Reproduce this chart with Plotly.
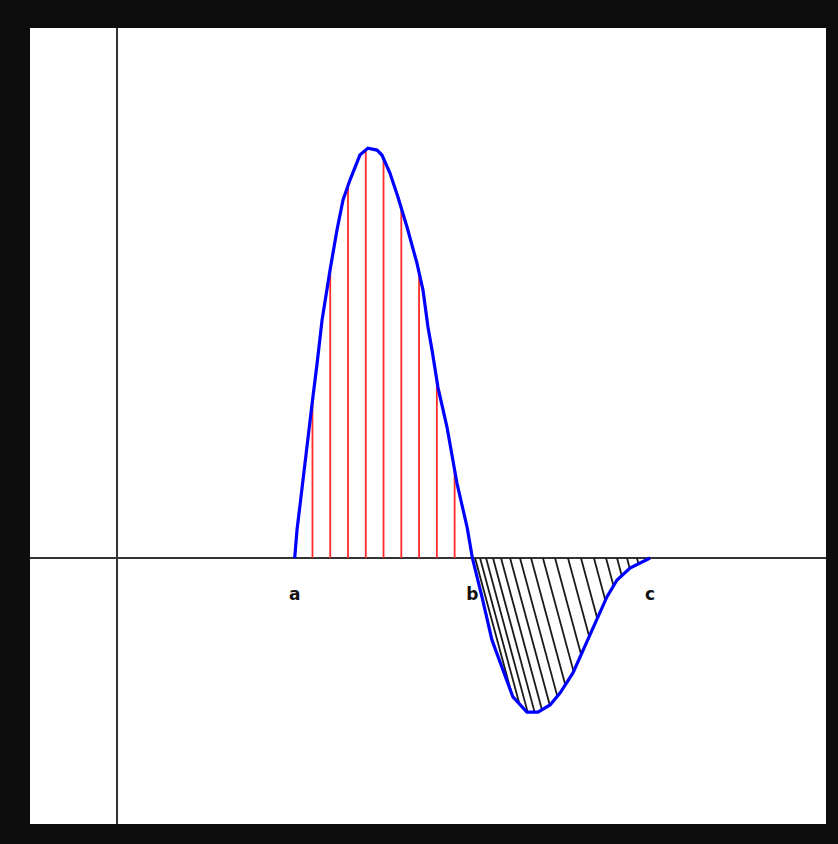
import numpy as np
import plotly.graph_objects as go

# Curve samples (data units: a=1, b=2, c=3)
curve_x = [1.000, 1.004, 1.013, 1.030, 1.052, 1.075, 1.097, 1.125, 1.154, 1.199,
           1.238, 1.272, 1.311, 1.367, 1.412, 1.463, 1.491, 1.536, 1.581, 1.632,
           1.688, 1.722, 1.750, 1.773, 1.806, 1.857, 1.913, 1.970, 2.000, 2.054,
           2.110, 2.172, 2.228, 2.307, 2.369, 2.437, 2.493, 2.566, 2.679, 2.757,
           2.814, 2.887, 3.000]
curve_y = [0.000, 0.060, 0.158, 0.298, 0.495, 0.664, 0.861, 1.086, 1.339, 1.621,
           1.846, 2.015, 2.127, 2.268, 2.307, 2.296, 2.268, 2.167, 2.032, 1.863,
           1.660, 1.508, 1.300, 1.170, 0.962, 0.737, 0.422, 0.174, 0.000, -0.219,
           -0.461, -0.630, -0.782, -0.867, -0.867, -0.827, -0.760, -0.647, -0.388, -0.219,
           -0.124, -0.056, 0.000]

# Vertical red hatch positions (between a and b)
red_x = [1.1, 1.2, 1.3, 1.4, 1.5, 1.6, 1.7, 1.8, 1.9]

# Diagonal black hatch: starting points on the x-axis (between b and c)
hatch_top_x = [2.015, 2.043, 2.077, 2.116, 2.161, 2.212, 2.268, 2.330, 2.397,
               2.465, 2.538, 2.611, 2.684, 2.752, 2.814, 2.870, 2.926]
hatch_dx_per_dy = 0.27

labels = ["a", "b", "c"]
label_x = [1, 2, 3]

cx = np.array(curve_x)
cy = np.array(curve_y)

def f(x):
    return np.interp(x, cx, cy)

# red vertical lines
rx, ry = [], []
for x in red_x:
    rx += [x, x, None]
    ry += [0, float(f(x)), None]

# black diagonal lines
hx, hy = [], []
for x0 in hatch_top_x:
    d = 0.0
    step = 0.002
    while True:
        nd = d + step
        xx = x0 + hatch_dx_per_dy * nd
        if xx > 3 or f(xx) > -nd:
            break
        d = nd
    hx += [x0, x0 + hatch_dx_per_dy * d, None]
    hy += [0, -d, None]

fig = go.Figure()
fig.add_trace(go.Scatter(x=rx, y=ry, mode="lines",
                         line=dict(color="#ff2a2a", width=1.8),
                         hoverinfo="skip", showlegend=False))
fig.add_trace(go.Scatter(x=hx, y=hy, mode="lines",
                         line=dict(color="#1a1a1a", width=1.8),
                         hoverinfo="skip", showlegend=False))
fig.add_trace(go.Scatter(x=curve_x, y=curve_y, mode="lines",
                         line=dict(color="#0000ff", width=3.2),
                         hoverinfo="skip", showlegend=False))
fig.add_trace(go.Scatter(x=label_x, y=[-0.213] * 3, mode="text",
                         text=["<b>%s</b>" % t for t in labels],
                         textfont=dict(family="DejaVu Sans", size=17, color="#111111"),
                         hoverinfo="skip", showlegend=False))

axis_common = dict(showgrid=False, showticklabels=False, ticks="",
                   zeroline=True, zerolinecolor="#333333", zerolinewidth=2,
                   showline=False, fixedrange=True)

fig.update_layout(
    width=838, height=844,
    margin=dict(l=30, r=12, t=28, b=20),
    paper_bgcolor="#0d0d0d",
    plot_bgcolor="#ffffff",
    xaxis=dict(range=[-0.4896, 3.990], **axis_common),
    yaxis=dict(range=[-1.497, 2.983], **axis_common),
)

fig.write_html(
    "out.html",
    config={"displayModeBar": False},
    post_script="document.body.style.margin='0';document.body.style.background='#0d0d0d';document.body.style.overflow='hidden';",
)
